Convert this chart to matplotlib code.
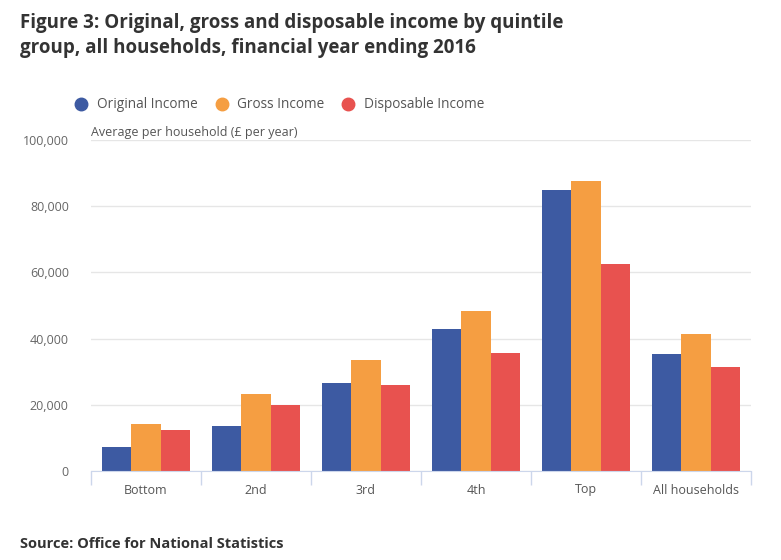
import numpy as np
import matplotlib.pyplot as plt
from matplotlib.lines import Line2D

# datos
groups = ["Bottom", "2nd", "3rd", "4th", "Top", "All households"]
original = [7100, 13600, 26700, 43000, 84800, 35200]
gross = [14200, 23300, 33600, 48200, 87500, 41500]
disposable = [12400, 20000, 26100, 35800, 62400, 31500]
series = ["Original Income", "Gross Income", "Disposable Income"]
colors = ["#3D5AA2", "#F59E42", "#E8524F"]

plt.rcParams['font.family'] = ['Open Sans', 'DejaVu Sans']

fig = plt.figure(figsize=(7.81, 5.6), dpi=100)
ax = fig.add_axes([91/781, 1-471/560, 660/781, 331/560])

x = np.arange(len(groups))
w = 0.8/3
for i, vals in enumerate([original, gross, disposable]):
    ax.bar(x + (i-1)*w, vals, width=w, color=colors[i], label=series[i], zorder=2)

ax.set_xlim(-0.5, len(groups)-0.5)
ax.set_ylim(0, 100000)
ax.set_yticks(range(0, 100001, 20000))
ax.set_yticklabels([f"{v:,}" for v in range(0, 100001, 20000)])
ax.yaxis.grid(True, color="#e6e6e6", lw=1, zorder=0)
ax.tick_params(axis='y', length=0, pad=16, labelsize=9, labelcolor="#666666")
ax.set_xticks(x)
ax.set_xticklabels(groups)
ax.set_xticks(np.arange(-0.5, len(groups)), minor=True)
ax.tick_params(axis='x', which='major', length=0, pad=9, labelsize=9, labelcolor="#555555")
ax.tick_params(axis='x', which='minor', length=10, color="#ccd6eb", width=1)
for s in ["top", "right", "left"]:
    ax.spines[s].set_visible(False)
ax.spines["bottom"].set_color("#ccd6eb")

ax.text(0, 1.0 + 1/331, "Average per household (£ per year)", transform=ax.transAxes,
        fontsize=9, color="#555555", va="bottom")

fig.text(20/781, 1-23/560, "Figure 3: Original, gross and disposable income by quintile",
         fontsize=13.5, fontweight="bold", color="#333333", va="center")
fig.text(20/781, 1-48/560, "group, all households, financial year ending 2016",
         fontsize=13.5, fontweight="bold", color="#333333", va="center")

handles = [Line2D([0], [0], marker='o', ls='', markersize=9, color=c) for c in colors]
fig.legend(handles, series, loc="center left", bbox_to_anchor=(61/781, 1-105/560),
           ncol=3, frameon=False, fontsize=9.8, labelcolor="#555555",
           handletextpad=0.55, columnspacing=1.15, handlelength=1.2)

fig.text(20/781, 1-544/560, "Source: Office for National Statistics",
         fontsize=10.5, fontweight="bold", color="#333333", va="center")

fig.savefig("out.png", dpi=100, facecolor="white")
